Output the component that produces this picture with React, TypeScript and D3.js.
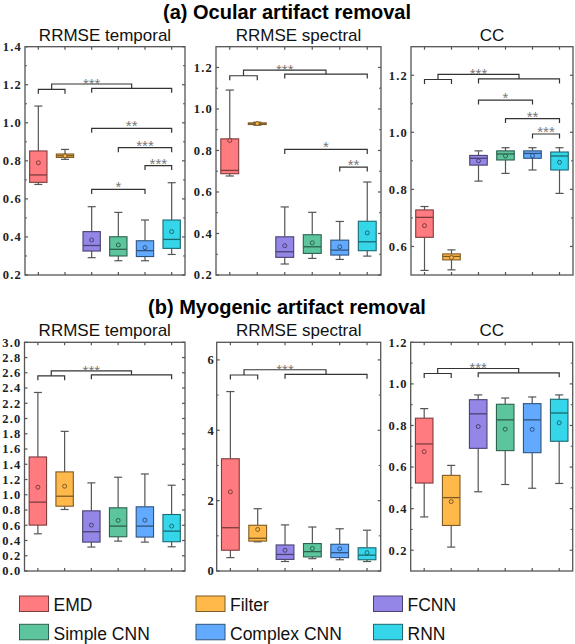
import React from "react";
import * as d3 from "d3";

const categories = ["EMD", "Filter", "FCNN", "Simple CNN", "Complex CNN", "RNN"];
const colors = ["#FF7B7F", "#FFB84A", "#9386E6", "#5CC59E", "#62AAFF", "#36D6EA"];

// [whiskerLow, q1, median, q3, whiskerHigh, mean]
const ocularTemporal = [
  [0.676, 0.687, 0.726, 0.852, 1.088, 0.79],
  [0.808, 0.818, 0.827, 0.836, 0.86, 0.826],
  [0.291, 0.326, 0.355, 0.428, 0.559, 0.384],
  [0.275, 0.3, 0.335, 0.401, 0.529, 0.358],
  [0.275, 0.297, 0.328, 0.38, 0.489, 0.344],
  [0.308, 0.34, 0.387, 0.489, 0.685, 0.428],
];
const ocularSpectral = [
  [0.677, 0.688, 0.704, 0.856, 1.091, 0.848],
  [0.922, 0.925, 0.928, 0.933, 0.936, 0.93],
  [0.253, 0.285, 0.312, 0.384, 0.528, 0.341],
  [0.28, 0.304, 0.336, 0.394, 0.502, 0.355],
  [0.275, 0.296, 0.32, 0.368, 0.458, 0.336],
  [0.291, 0.317, 0.36, 0.459, 0.648, 0.403],
];
const ocularCC = [
  [0.516, 0.632, 0.702, 0.728, 0.74, 0.673],
  [0.518, 0.553, 0.565, 0.574, 0.588, 0.561],
  [0.829, 0.885, 0.909, 0.919, 0.935, 0.9],
  [0.856, 0.903, 0.924, 0.935, 0.946, 0.917],
  [0.868, 0.909, 0.926, 0.935, 0.946, 0.918],
  [0.786, 0.868, 0.917, 0.931, 0.946, 0.895],
];
const myoTemporal = [
  [0.488, 0.602, 0.903, 1.496, 2.342, 1.099],
  [0.807, 0.85, 0.981, 1.3, 1.832, 1.112],
  [0.314, 0.379, 0.515, 0.789, 1.156, 0.602],
  [0.392, 0.449, 0.589, 0.829, 1.23, 0.663],
  [0.379, 0.445, 0.589, 0.842, 1.273, 0.667],
  [0.318, 0.384, 0.523, 0.741, 1.125, 0.589],
];
const myoSpectral = [
  [0.38, 0.59, 1.23, 3.19, 5.1, 2.25],
  [0.83, 0.85, 0.93, 1.3, 1.77, 1.18],
  [0.27, 0.33, 0.47, 0.74, 1.31, 0.59],
  [0.35, 0.4, 0.55, 0.78, 1.25, 0.64],
  [0.32, 0.38, 0.52, 0.76, 1.2, 0.63],
  [0.27, 0.32, 0.45, 0.66, 1.16, 0.52],
];
const myoCC = [
  [0.36, 0.523, 0.711, 0.835, 0.881, 0.674],
  [0.215, 0.319, 0.453, 0.56, 0.608, 0.434],
  [0.481, 0.69, 0.856, 0.924, 0.947, 0.795],
  [0.516, 0.679, 0.827, 0.902, 0.932, 0.782],
  [0.498, 0.669, 0.827, 0.905, 0.937, 0.781],
  [0.521, 0.724, 0.86, 0.926, 0.947, 0.813],
];

// tick labels
const ocularTemporalTicks = [0.2, 0.4, 0.6, 0.8, 1.0, 1.2, 1.4];
const ocularSpectralTicks = [0.2, 0.4, 0.6, 0.8, 1.0, 1.2];
const ocularCCTicks = [0.6, 0.8, 1.0, 1.2];
const myoTemporalTicks = [0, 0.2, 0.4, 0.6, 0.8, 1.0, 1.2, 1.4, 1.6, 1.8, 2.0, 2.2, 2.4, 2.6, 2.8, 3.0];
const myoSpectralTicks = [0, 2, 4, 6];
const myoCCTicks = [0.2, 0.4, 0.6, 0.8, 1.0, 1.2];

const ocularTemporalMinor = [0.3, 0.5, 0.7, 0.9, 1.1, 1.3];
const ocularSpectralMinor = [0.3, 0.5, 0.7, 0.9, 1.1];
const ocularCCMinor = [0.7, 0.9, 1.1];
const myoTemporalMinor: number[] = [];
const myoSpectralMinor = [1, 3, 5];
const myoCCMinor = [0.3, 0.5, 0.7, 0.9, 1.1];

// significance: group bracket [leftY, rightY, topY]
const ocularTemporalGroup = [1.176, 1.181, 1.204];
const ocularSpectralGroup = [1.16, 1.168, 1.187];
const ocularCCGroup = [1.185, 1.187, 1.203];
const myoTemporalGroup = [2.56, 2.573, 2.625];
const myoSpectralGroup = [5.57, 5.59, 5.72];
const myoCCGroup = [1.05, 1.053, 1.074];

// pairwise: [fromCat, toCat, y, label]
const ocularTemporalPairs: [number, number, number, string][] = [
  [3, 6, 0.971, "**"],
  [4, 6, 0.869, "***"],
  [5, 6, 0.775, "***"],
  [3, 5, 0.65, "*"],
];
const ocularSpectralPairs: [number, number, number, string][] = [
  [3, 6, 0.805, "*"],
  [5, 6, 0.72, "**"],
];
const ocularCCPairs: [number, number, number, string][] = [
  [3, 5, 1.113, "*"],
  [4, 6, 1.048, "**"],
  [5, 6, 0.994, "***"],
];

type PanelProps = {
  x0: number; x1: number; y0: number; y1: number;
  domain: [number, number];
  ticks: number[]; minor: number[];
  stats: number[][];
  group: number[];
  pairs: [number, number, number, string][];
  title: string;
  decimals: number;
};

const SANS = "'Liberation Sans', Arial, sans-serif";
const SERIF = "'Liberation Serif', 'Times New Roman', serif";

function Panel(p: PanelProps) {
  const x = d3.scaleLinear().domain([0.5, 6.5]).range([p.x0, p.x1]);
  const y = d3.scaleLinear().domain(p.domain).range([p.y1, p.y0]);
  const bw = (x(1.65) - x(1));
  const cw = (x(1.3) - x(1));
  const fmt = d3.format(`.${p.decimals}f`);
  const frame = "#555";
  const br = "#333";
  const tk = 4.5;
  const bracket = (a: number, b: number, v: number, key: string) => (
    <path key={key} d={`M${x(a)},${y(v) + tk}V${y(v)}H${x(b)}V${y(v) + tk}`} fill="none" stroke={br} strokeWidth={1.2} />
  );
  const [gl, gr, gt] = p.group;
  const ml = x(1.5), mr = x(4.5);
  return (
    <g>
      <text x={(p.x0 + p.x1) / 2} y={p.y0 - 6} textAnchor="middle" fontFamily={SANS} fontSize={17} fill="#111">{p.title}</text>
      {/* boxes */}
      {p.stats.map((s, i) => {
        const cx = x(i + 1);
        const c = colors[i];
        const dark = d3.color(c)!.darker(2).formatHex();
        return (
          <g key={i}>
            <line x1={cx} x2={cx} y1={y(s[4])} y2={y(s[3])} stroke="#555" strokeWidth={1.2} />
            <line x1={cx} x2={cx} y1={y(s[1])} y2={y(s[0])} stroke="#555" strokeWidth={1.2} />
            <line x1={cx - cw / 2} x2={cx + cw / 2} y1={y(s[4])} y2={y(s[4])} stroke="#555" strokeWidth={1.2} />
            <line x1={cx - cw / 2} x2={cx + cw / 2} y1={y(s[0])} y2={y(s[0])} stroke="#555" strokeWidth={1.2} />
            <rect x={cx - bw / 2} y={y(s[3])} width={bw} height={Math.max(1, y(s[1]) - y(s[3]))} fill={c} stroke={dark} strokeWidth={1.1} />
            <line x1={cx - bw / 2} x2={cx + bw / 2} y1={y(s[2])} y2={y(s[2])} stroke={dark} strokeWidth={1.3} />
            <circle cx={cx} cy={y(s[5])} r={2} fill={c} stroke={dark} strokeWidth={1} />
          </g>
        );
      })}
      {/* group bracket */}
      {bracket(1, 2, gl, "gl")}
      {bracket(3, 6, gr, "gr")}
      <path d={`M${ml},${y(gl)}V${y(gt)}H${mr}V${y(gr)}`} fill="none" stroke={br} strokeWidth={1.2} />
      <text x={(ml + mr) / 2} y={y(gt) + 5} textAnchor="middle" fontFamily={SANS} fontSize={15} fill="#777">***</text>
      {p.pairs.map((q, i) => (
        <g key={"p" + i}>
          {bracket(q[0], q[1], q[2], "b" + i)}
          <text x={(x(q[0]) + x(q[1])) / 2} y={y(q[2]) + 3} textAnchor="middle" fontFamily={SANS} fontSize={15} fill="#777">{q[3]}</text>
        </g>
      ))}
      {/* frame */}
      <rect x={p.x0} y={p.y0} width={p.x1 - p.x0} height={p.y1 - p.y0} fill="none" stroke={frame} strokeWidth={1.3} />
      {p.ticks.map((t) => (
        <g key={"t" + t}>
          <line x1={p.x0} x2={p.x0 + 3} y1={y(t)} y2={y(t)} stroke={frame} strokeWidth={1.2} />
          <line x1={p.x1} x2={p.x1 - 3} y1={y(t)} y2={y(t)} stroke={frame} strokeWidth={1.2} />
          <text x={p.x0 - 3} y={y(t)} dy="0.35em" textAnchor="end" fontFamily={SERIF} fontWeight="bold" fontSize={12.5} letterSpacing={p.decimals ? 1.2 : 0} fill="#222">{fmt(t)}</text>
        </g>
      ))}
      {p.minor.map((t) => (
        <g key={"m" + t}>
          <line x1={p.x0} x2={p.x0 + 2} y1={y(t)} y2={y(t)} stroke={frame} strokeWidth={1} />
          <line x1={p.x1} x2={p.x1 - 2} y1={y(t)} y2={y(t)} stroke={frame} strokeWidth={1} />
        </g>
      ))}
      {categories.map((c, i) => (
        <g key={"x" + c}>
          <line x1={x(i + 1)} x2={x(i + 1)} y1={p.y1} y2={p.y1 - 3} stroke={frame} strokeWidth={1.2} />
          <line x1={x(i + 1)} x2={x(i + 1)} y1={p.y0} y2={p.y0 + 3} stroke={frame} strokeWidth={1.2} />
        </g>
      ))}
    </g>
  );
}

export default function App() {
  const topY0 = 46.7, topY1 = 275;
  const botY0 = 342.3, botY1 = 571;
  const legendCols = [19.5, 196, 373.5];
  const legendRows = [596, 624.3];
  return (
    <svg width={575} height={644} style={{ position: "absolute", left: 0, top: 0, background: "#fff" }}>
      <rect width={575} height={644} fill="#fff" />
      <text x={287} y={19} textAnchor="middle" fontFamily={SANS} fontWeight="bold" fontSize={20} fill="#000">(a) Ocular artifact removal</text>
      <text x={287} y={314} textAnchor="middle" fontFamily={SANS} fontWeight="bold" fontSize={20} fill="#000">(b) Myogenic artifact removal</text>

      <Panel x0={25} x1={185} y0={topY0} y1={topY1} domain={[0.2, 1.4]} ticks={ocularTemporalTicks} minor={ocularTemporalMinor}
        stats={ocularTemporal} group={ocularTemporalGroup} pairs={ocularTemporalPairs} title="RRMSE temporal" decimals={1} />
      <Panel x0={216} x1={381} y0={topY0} y1={topY1} domain={[0.2, 1.3]} ticks={ocularSpectralTicks} minor={ocularSpectralMinor}
        stats={ocularSpectral} group={ocularSpectralGroup} pairs={ocularSpectralPairs} title="RRMSE spectral" decimals={1} />
      <Panel x0={411} x1={573} y0={topY0} y1={topY1} domain={[0.5, 1.3]} ticks={ocularCCTicks} minor={ocularCCMinor}
        stats={ocularCC} group={ocularCCGroup} pairs={ocularCCPairs} title="CC" decimals={1} />

      <Panel x0={24.5} x1={185} y0={botY0} y1={botY1} domain={[0, 3]} ticks={myoTemporalTicks} minor={myoTemporalMinor}
        stats={myoTemporal} group={myoTemporalGroup} pairs={[]} title="RRMSE temporal" decimals={1} />
      <Panel x0={216.7} x1={380.7} y0={botY0} y1={botY1} domain={[0, 6.5]} ticks={myoSpectralTicks} minor={myoSpectralMinor}
        stats={myoSpectral} group={myoSpectralGroup} pairs={[]} title="RRMSE spectral" decimals={0} />
      <Panel x0={410.7} x1={572.7} y0={botY0} y1={botY1} domain={[0.1, 1.2]} ticks={myoCCTicks} minor={myoCCMinor}
        stats={myoCC} group={myoCCGroup} pairs={[]} title="CC" decimals={1} />

      {categories.map((c, i) => {
        const col = i % 3, row = Math.floor(i / 3);
        const lx = legendCols[col], ly = legendRows[row];
        return (
          <g key={"lg" + c}>
            <rect x={lx} y={ly} width={29} height={15.5} fill={colors[i]} stroke={d3.color(colors[i])!.darker(2).formatHex()} strokeWidth={1} />
            <text x={lx + 34} y={ly + 15.3} fontFamily={SANS} fontSize={17.5} fill="#111">{c}</text>
          </g>
        );
      })}
    </svg>
  );
}
